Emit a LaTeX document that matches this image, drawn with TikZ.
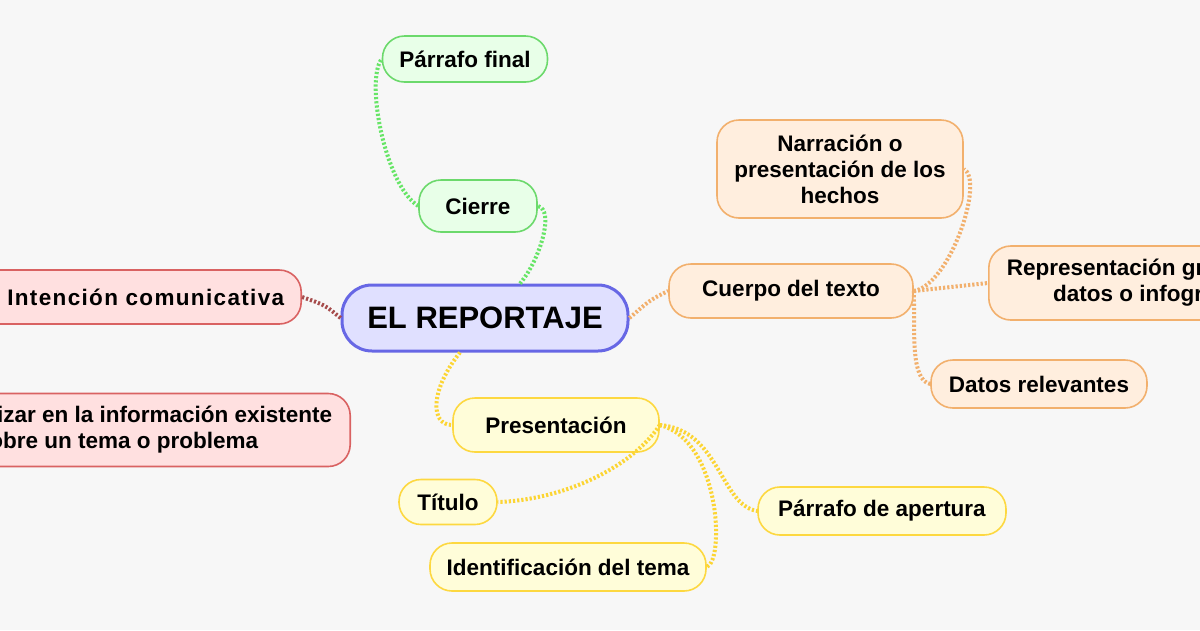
\documentclass[tikz,border=0pt]{standalone}
\usepackage{fontspec}
\setmainfont{Liberation Sans}
\begin{document}
\begin{tikzpicture}[x=1pt,y=-1pt,
  box/.style={rounded corners=22pt,line width=1.6pt,align=center,font=\bfseries\fontsize{22.5}{26}\selectfont,inner xsep=12pt,inner ysep=0pt},
  gbox/.style={box,fill=green!9,draw=green!50!white!85!black},
  rbox/.style={box,fill=red!12,draw=red!55!white!85!black},
  obox/.style={box,fill=orange!13,draw=orange!55!white!95!black},
  ybox/.style={box,fill=yellow!15,draw=yellow!65!orange!75!white},
  link/.style={line width=4pt,dash pattern=on 2.2pt off 2pt},
  glink/.style={link,draw=green!55!white!90!black},
  rlink/.style={link,draw=red!50!black!70!white},
  olink/.style={link,draw=orange!55!white!95!black},
  ylink/.style={link,draw=yellow!65!orange!80!white}]
\useasboundingbox (0,0) rectangle (1200,630);
\clip (0,0) rectangle (1200,630);
\fill[black!3] (0,0) rectangle (1200,630);
\node[gbox,minimum width=165pt,minimum height=46pt] (pf) at (465,59) {Párrafo final};
\node[gbox,minimum width=118pt,minimum height=52pt] (ci) at (478,206) {Cierre};
\node[box,fill=blue!12,draw=blue!55!white!90!black,line width=3pt,rounded corners=30pt,minimum width=286pt,minimum height=66pt,font=\bfseries\fontsize{31}{36}\selectfont] (root) at (485,318) {EL REPORTAJE};
\node[rbox,anchor=east,minimum height=54pt,text width=300pt,align=right,inner xsep=17pt,font=\bfseries\fontsize{22.5}{26}\selectfont\addfontfeature{LetterSpace=6}] (in) at (302,297) {Intención comunicativa};
\node[rbox,anchor=east,minimum height=73pt,inner xsep=18pt,align=left] (pr) at (351,430) {Profundizar en la información existente\\\hspace*{66pt}sobre un tema o problema};
\node[obox,minimum width=244pt,minimum height=54pt] (cu) at (791,291) {Cuerpo del texto};
\node[obox,minimum width=246pt,minimum height=98pt] (na) at (840,169) {Narración o\\presentación de los\\hechos};
\node[obox,anchor=west,minimum height=74pt,inner xsep=18pt] (re) at (988,283) {Representación gráfica de\\datos o infografía};
\node[obox,minimum width=216pt,minimum height=48pt] (dr) at (1039,384) {Datos relevantes};
\node[ybox,minimum width=206pt,minimum height=54pt] (pt) at (556,425) {Presentación};
\node[ybox,minimum width=98pt,minimum height=45pt] (ti) at (448,502) {Título};
\node[ybox,minimum width=276pt,minimum height=48pt] (id) at (568,567) {Identificación del tema};
\node[ybox,minimum width=248pt,minimum height=48pt] (pa) at (882,511) {Párrafo de apertura};
% links
\draw[glink] (ci.west) .. controls (385,185) and (365,80) .. (pf.west);
\draw[glink] (root.north) ++(35,0) .. controls (540,260) and (555,210) .. (ci.east);
\draw[rlink] (root.west) .. controls (325,305) .. (in.east);
\draw[olink] (root.east) .. controls (650,300) .. (cu.west);
\draw[ylink] (root.south) ++(-25,0) .. controls (430,390) and (430,425) .. (pt.west);
\draw[olink] (cu.east) .. controls (950,285) and (985,180) .. (na.east);
\draw[olink] (cu.east) -- (re.west);
\draw[olink] (cu.east) .. controls (915,330) and (910,380) .. (dr.west);
\draw[ylink] (pt.east) .. controls (630,470) and (560,500) .. (ti.east);
\draw[ylink] (pt.east) .. controls (720,440) and (725,560) .. (id.east);
\draw[ylink] (pt.east) .. controls (720,430) and (720,505) .. (pa.west);
\end{tikzpicture}
\end{document}
